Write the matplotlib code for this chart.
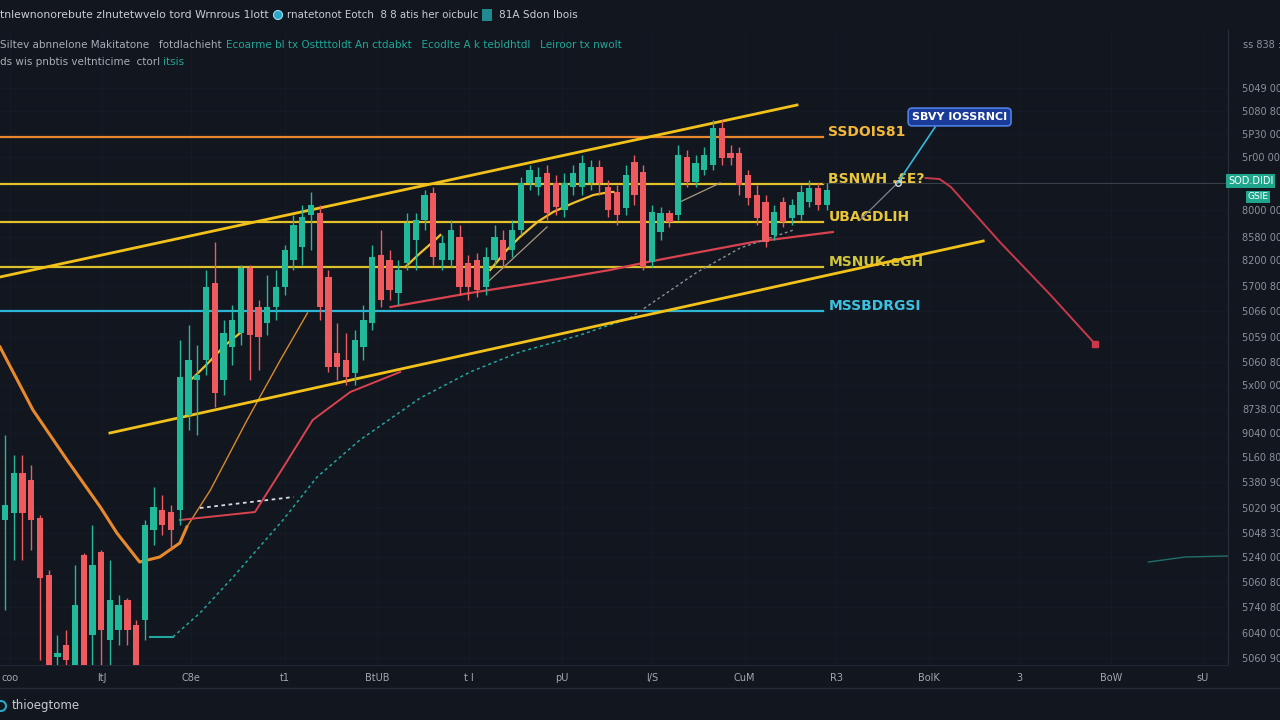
import numpy as np
import matplotlib.pyplot as plt
from matplotlib.lines import Line2D
from matplotlib.patches import Rectangle, Ellipse

# Candles (price units)
opens = [5145, 5152, 5192, 5185, 5147, 5090, 5008, 5020, 5000, 5110, 5030, 5113, 5025, 5035, 5065, 5040,
         5045, 5135, 5155, 5153, 5155, 5250, 5285, 5305, 5382, 5285, 5318, 5332, 5397, 5358, 5342, 5358,
         5378, 5405, 5418, 5450, 5452, 5388, 5312, 5305, 5292, 5318, 5342, 5410, 5405, 5372, 5402, 5425,
         5445, 5472, 5405, 5405, 5428, 5402, 5405, 5378, 5405, 5425, 5415, 5435, 5482, 5478, 5492, 5482,
         5455, 5478, 5478, 5482, 5498, 5478, 5473, 5457, 5503, 5493, 5403, 5433, 5452, 5450, 5508, 5483,
         5495, 5500, 5537, 5512, 5512, 5490, 5470, 5463, 5430, 5463, 5447, 5450, 5463, 5477, 5460]
highs = [5230, 5210, 5210, 5200, 5150, 5095, 5030, 5035, 5100, 5112, 5140, 5115, 5105, 5070, 5067, 5045,
         5145, 5178, 5170, 5160, 5325, 5340, 5320, 5395, 5423, 5345, 5360, 5400, 5400, 5365, 5390, 5395,
         5420, 5450, 5460, 5473, 5460, 5395, 5342, 5332, 5335, 5360, 5420, 5435, 5415, 5405, 5452, 5452,
         5475, 5478, 5430, 5445, 5440, 5410, 5412, 5418, 5440, 5435, 5445, 5488, 5500, 5498, 5500, 5490,
         5492, 5500, 5510, 5505, 5505, 5485, 5480, 5500, 5510, 5500, 5460, 5458, 5455, 5520, 5515, 5510,
         5518, 5545, 5545, 5520, 5518, 5495, 5480, 5470, 5460, 5468, 5466, 5480, 5485, 5482, 5482]
lows = [5055, 5105, 5105, 5115, 5005, 5000, 5000, 5000, 5000, 5000, 5000, 5000, 5000, 5020, 5020, 5000,
        5025, 5120, 5130, 5115, 5140, 5235, 5230, 5290, 5258, 5270, 5300, 5320, 5285, 5295, 5330, 5345,
        5370, 5395, 5400, 5415, 5345, 5293, 5285, 5280, 5280, 5305, 5335, 5358, 5365, 5360, 5395, 5395,
        5435, 5400, 5395, 5398, 5370, 5365, 5368, 5370, 5398, 5398, 5408, 5430, 5475, 5470, 5445, 5450,
        5448, 5470, 5470, 5475, 5470, 5448, 5440, 5450, 5460, 5395, 5398, 5425, 5438, 5445, 5478, 5478,
        5490, 5495, 5500, 5500, 5470, 5460, 5440, 5418, 5425, 5438, 5440, 5445, 5458, 5455, 5455]
closes = [5160, 5192, 5152, 5145, 5087, 5000, 5012, 5005, 5060, 5000, 5100, 5035, 5065, 5060, 5035, 5000,
          5140, 5158, 5140, 5135, 5288, 5305, 5290, 5378, 5272, 5332, 5345, 5397, 5330, 5328, 5358, 5378,
          5415, 5440, 5448, 5460, 5358, 5298, 5298, 5288, 5325, 5345, 5408, 5365, 5375, 5395, 5442, 5445,
          5470, 5408, 5422, 5435, 5378, 5378, 5375, 5408, 5428, 5405, 5435, 5482, 5495, 5488, 5452, 5458,
          5482, 5492, 5502, 5498, 5482, 5455, 5450, 5490, 5470, 5398, 5453, 5452, 5443, 5510, 5483, 5502,
          5510, 5537, 5507, 5507, 5480, 5467, 5447, 5423, 5453, 5443, 5460, 5473, 5477, 5460, 5475]

# Horizontal levels
level_prices = [5528, 5481, 5443, 5398, 5354]
level_names = ["SSDOIS81", "BSNWH .£E?", "UBAGDLIH", "MSNUK.eGH", "MSSBDRGSI"]

# Channel lines (bar index, price)
upper_x, upper_y = [-0.57, 90.6], [5388, 5560]
lower_x, lower_y = [12.0, 111.9], [5232, 5424]

# Moving averages / overlays
ma_orange_x = [-0.57, 3.2, 7.1, 10.9, 12.8, 15.4, 17.7, 20.0, 20.8]
ma_orange_y = [5318, 5255, 5205, 5158, 5132, 5103, 5108, 5122, 5138]
ma_orange_thin_x = [20.8, 23.5, 27.7, 31.5, 34.6]
ma_orange_thin_y = [5138, 5175, 5245, 5305, 5352]
ma_yellow_a_x, ma_yellow_a_y = [20.9, 22.9, 25.2, 26.9], [5282, 5299, 5320, 5332]
ma_yellow_b_x, ma_yellow_b_y = [45.8, 47.5, 49.2, 49.8], [5398, 5412, 5425, 5430]
ma_yellow_c_x = [55.5, 57.4, 58.9, 60.9, 62.7, 65.0, 67.3, 69.2, 69.6]
ma_yellow_c_y = [5395, 5415, 5428, 5443, 5453, 5462, 5470, 5473, 5473]
ma_red_a_x = [20.0, 28.6, 32.0, 35.2, 39.5, 45.2]
ma_red_a_y = [5145, 5153, 5200, 5245, 5273, 5293]
ma_red_b_x = [44.1, 53.2, 61.2, 69.2, 73.5, 79.5, 85.6, 94.7]
ma_red_b_y = [5358, 5372, 5383, 5395, 5403, 5413, 5423, 5433]
ma_teal_x = [16.6, 19.2, 22.3, 26.1, 31.8, 35.7, 40.6, 47.5, 53.2, 58.9, 65.8, 71.5]
ma_teal_y = [5028, 5028, 5052, 5088, 5145, 5188, 5225, 5267, 5293, 5313, 5330, 5347]
ma_grey_x, ma_grey_y = [71.5, 79.2, 84.1, 90.2], [5347, 5393, 5417, 5435]
ma_white_x, ma_white_y = [22.3, 33.0], [5157, 5168]
ma_beige_a_x, ma_beige_a_y = [55.1, 62.0], [5382, 5438]
ma_beige_b_x, ma_beige_b_y = [77.2, 81.8], [5463, 5482]

proj_x = [105.3, 106.9, 108.2, 113.8, 119.6, 124.7]
proj_y = [5487, 5486, 5478, 5423, 5370, 5321]
tail_x, tail_y = [130.8, 135.0, 139.9], [5103, 5108, 5109]

last_price = 5482
callout_text = "SBVY IOSSRNCI"
callout_pos = (109.2, 5548)

price_ticks = [5577, 5554, 5531, 5508, 5455, 5428, 5405, 5379, 5354, 5328, 5303, 5280,
               5256, 5232, 5208, 5183, 5157, 5132, 5108, 5083, 5058, 5032, 5007]
price_labels = ["5049 00", "5080 80", "5P30 00", "5r00 00", "8000 00", "8580 00", "8200 00",
                "5700 80", "5066 00", "5059 00", "5060 80", "5x00 00", "8738.00", "9040 00",
                "5L60 80", "5380 90", "5020 90", "5048 30", "5240 00", "5060 80", "5740 80",
                "6040 00", "5060 90"]
time_ticks = [0.6, 11.1, 21.3, 32.0, 42.6, 53.1, 63.7, 74.0, 84.6, 95.1, 105.7, 116.0, 126.5, 137.0]
time_labels = ["coo", "ltJ", "C8e", "t1", "BtUB", "t l", "pU", "l/S", "CuM", "R3", "BolK", "3", "BoW", "sU"]

bg = '#12161f'
teal = '#22b99b'
red = '#ef5a5f'

fig = plt.figure(figsize=(12.8, 7.2), dpi=100, facecolor=bg)
ax = fig.add_axes([0, 55 / 720, 1228 / 1280, 635 / 720], facecolor=bg)
ax.set_xlim(-0.57, 139.9)
ax.set_ylim(5000, 5635)

ax.grid(True, color='#171b25', linewidth=0.6)
ax.set_axisbelow(True)

# levels
lvl_colors = ['#e8872e', '#e3c22c', '#e3c22c', '#d9c02c', '#2bb5d8']
txt_colors = ['#f3b73b', '#e9c53a', '#e9c53a', '#cfc43a', '#3cc2e0']
for p, name, lc, tc in zip(level_prices, level_names, lvl_colors, txt_colors):
    ax.plot([-0.57, 93.6], [p, p], color=lc, linewidth=1.6, zorder=2)
    ax.text(94.2, p + 5, name, color=tc, fontsize=10, fontweight='bold', va='center', ha='left')

# overlays
ax.plot(ma_orange_x, ma_orange_y, color='#e8892b', linewidth=2.2, zorder=3)
ax.plot(ma_orange_thin_x, ma_orange_thin_y, color='#d98a2b', linewidth=1.0, zorder=3)
for xs, ys in [(ma_yellow_a_x, ma_yellow_a_y), (ma_yellow_b_x, ma_yellow_b_y), (ma_yellow_c_x, ma_yellow_c_y)]:
    ax.plot(xs, ys, color='#f0c02a', linewidth=1.6, zorder=3)
ax.plot(ma_red_a_x, ma_red_a_y, color='#d8434f', linewidth=1.4, zorder=3)
ax.plot(ma_red_b_x, ma_red_b_y, color='#d8434f', linewidth=1.6, zorder=3)
ax.plot(ma_teal_x[:2], ma_teal_y[:2], color='#22a7a0', linewidth=1.5, zorder=3)
ax.plot(ma_teal_x[1:], ma_teal_y[1:], color='#22a7a0', linewidth=1.1, linestyle=(0, (2, 2)), zorder=3)
ax.plot(ma_grey_x, ma_grey_y, color='#8a8f99', linewidth=1.0, linestyle=(0, (2, 2)), zorder=3)
ax.plot(ma_white_x, ma_white_y, color='#d8dde5', linewidth=1.3, linestyle=(0, (2, 2)), zorder=3)
ax.plot(ma_beige_a_x, ma_beige_a_y, color='#a89a80', linewidth=0.9, zorder=3)
ax.plot(ma_beige_b_x, ma_beige_b_y, color='#a89a80', linewidth=0.9, zorder=3)

# channel
ax.plot(upper_x, upper_y, color='#f2c21b', linewidth=2.0, zorder=4)
ax.plot(lower_x, lower_y, color='#f2c21b', linewidth=2.0, zorder=4)

# candles
o, h, l, c = map(np.array, (opens, highs, lows, closes))
x = np.arange(len(o))
cols = np.where(c >= o, teal, red)
ax.vlines(x, l, h, colors=cols, linewidth=1.0, zorder=5)
body = np.maximum(np.abs(c - o), 2)
ax.bar(x, body, bottom=np.minimum(o, c), width=0.72, color=cols, zorder=6)

# last price line + projection
ax.plot([93.6, 139.9], [last_price, last_price], color='#3a3f4a', linewidth=0.8, zorder=2)
ax.plot(proj_x, proj_y, color='#c9394b', linewidth=1.4, zorder=4)
ax.plot(proj_x[-1], proj_y[-1], 's', color='#c9394b', markersize=5, zorder=5)
ax.plot(tail_x, tail_y, color='#1f6f6a', linewidth=1.0, zorder=3)

# callout
ax.plot([106.4, 102.1], [5538, 5482], color='#35b8e0', linewidth=1.2, zorder=4)
ax.plot([102.1, 97.8], [5482, 5445], color='#7d838e', linewidth=0.9, zorder=4)
ax.plot(102.1, 5482, 'o', mfc='none', mec='#cfd6e0', markersize=4, zorder=5)
ax.text(*callout_pos, callout_text, color='white', fontsize=8, fontweight='bold', ha='center', va='center',
        bbox=dict(boxstyle='round,pad=0.35', fc='#1b3b98', ec='#4d7fe6', lw=1.2), zorder=7)

# axes styling
for s in ['top', 'left']:
    ax.spines[s].set_visible(False)
ax.spines['right'].set_color('#2a2f3a')
ax.spines['bottom'].set_color('#222733')
ax.yaxis.tick_right()
ax.set_yticks(price_ticks)
ax.set_yticklabels(price_labels)
ax.tick_params(axis='y', length=0, pad=10, labelsize=7, labelcolor='#8d919b')
ax.set_xticks(time_ticks)
ax.set_xticklabels(time_labels)
ax.tick_params(axis='x', length=0, pad=6, labelsize=7, labelcolor='#a3a7b0')

# last price tag on the axis
ax.text(1.0, (last_price + 2 - 5000) / 635, "SOD.DIDI", transform=ax.transAxes, color='white', fontsize=7,
        ha='left', va='center', bbox=dict(boxstyle='square,pad=0.2', fc='#1fa58c', ec='none'), clip_on=False)
ax.text(1.016, (last_price - 14 - 5000) / 635, "GSIE", transform=ax.transAxes, color='white', fontsize=6.5,
        ha='left', va='center', bbox=dict(boxstyle='square,pad=0.2', fc='#1fa58c', ec='none'), clip_on=False)

# header texts
fig.text(0.0, 1 - 15 / 720, "tnlewnonorebute zlnutetwvelo tord Wrnrous 1lott", color='#c9ccd3', fontsize=7.8, va='center')
fig.patches.append(Ellipse((278 / 1280, 1 - 15 / 720), 9 / 1280, 9 / 720, transform=fig.transFigure,
                           fc='#2aa6c9', ec='#9fe0f0', lw=0.8))
fig.text(287 / 1280, 1 - 15 / 720, "rnatetonot Eotch  8 8 atis her oicbulc", color='#c9ccd3', fontsize=7.4, va='center')
fig.patches.append(Rectangle((482 / 1280, 1 - 21 / 720), 10 / 1280, 12 / 720, transform=fig.transFigure, fc='#1f8a8f', ec='none'))
fig.text(499 / 1280, 1 - 15 / 720, "81A Sdon lbois", color='#c9ccd3', fontsize=7.6, va='center')

fig.text(0.0, 1 - 45 / 720, "Siltev abnnelone Makitatone   fotdlachieht", color='#a9adb6', fontsize=7.5, va='center')
fig.text(226 / 1280, 1 - 45 / 720, "Ecoarme bl tx Osttttoldt An ctdabkt   Ecodlte A k tebldhtdl   Leiroor tx nwolt",
         color='#21a797', fontsize=7.5, va='center')
fig.text(0.0, 1 - 62 / 720, "ds wis pnbtis veltnticime  ctorl", color='#a9adb6', fontsize=7.5, va='center')
fig.text(163 / 1280, 1 - 62 / 720, "itsis", color='#21a797', fontsize=7.5, va='center')
fig.text(1243 / 1280, 1 - 45 / 720, "ss 838 :", color='#8d919b', fontsize=7, va='center')

# bottom bar
fig.add_artist(Line2D([0, 1], [1 - 688 / 720] * 2, color='#262b36', linewidth=1.0))
fig.patches.append(Ellipse((1 / 1280, 1 - 706 / 720), 10 / 1280, 10 / 720, transform=fig.transFigure,
                           fc='none', ec='#2aa6c9', lw=1.5))
fig.text(12 / 1280, 1 - 706 / 720, "thioegtome", color='#c8cbd2', fontsize=8.5, va='center')

fig.savefig('out.png', dpi=100, facecolor=bg)
